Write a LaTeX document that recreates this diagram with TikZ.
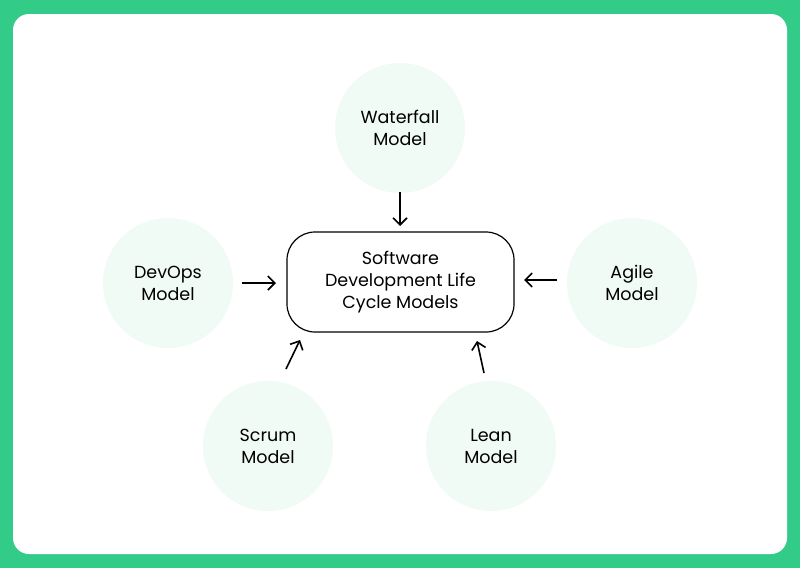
\documentclass[tikz,border=0pt]{standalone}
\usepackage{fontspec}
\setmainfont{Poppins}
\usetikzlibrary{arrows.meta}
\definecolor{bggreen}{HTML}{33CB88}
\definecolor{mint}{HTML}{F0FBF6}
\begin{document}
\begin{tikzpicture}[x=1pt,y=-1pt,
  model/.style={circle,fill=mint,minimum size=130pt,align=center,font=\fontsize{17.5}{22}\selectfont},
  core/.style={draw=black,line width=1.2pt,rounded corners=28pt,minimum width=227pt,minimum height=100pt,align=center,font=\fontsize{17.5}{22}\selectfont},
  conn/.style={line width=1.6pt,-{Straight Barb[length=7pt,width=14pt]}}]
\fill[bggreen] (0,0) rectangle (800,568);
\fill[white,rounded corners=16pt] (13,14) rectangle (787,554);
\useasboundingbox (0,0) rectangle (800,568);
\node[core] (c) at (400.5,282) {Software\\Development Life\\Cycle Models};
\node[model] (w) at (400,128) {Waterfall\\Model};
\node[model] (d) at (168,283) {DevOps\\Model};
\node[model] (a) at (632,283) {Agile\\Model};
\node[model] (s) at (268,446) {Scrum\\Model};
\node[model] (l) at (491,446) {Lean\\Model};
\coordinate (w1) at (400,192); \coordinate (w2) at (400,226);
\coordinate (d1) at (242,283); \coordinate (d2) at (276,283);
\coordinate (a1) at (557,280); \coordinate (a2) at (524,280);
\coordinate (s1) at (286,369); \coordinate (s2) at (300,340);
\coordinate (l1) at (484,373); \coordinate (l2) at (477,341);
\draw[conn] (w1) -- (w2);
\draw[conn] (d1) -- (d2);
\draw[conn] (a1) -- (a2);
\draw[conn] (s1) -- (s2);
\draw[conn] (l1) -- (l2);
\end{tikzpicture}
\end{document}
